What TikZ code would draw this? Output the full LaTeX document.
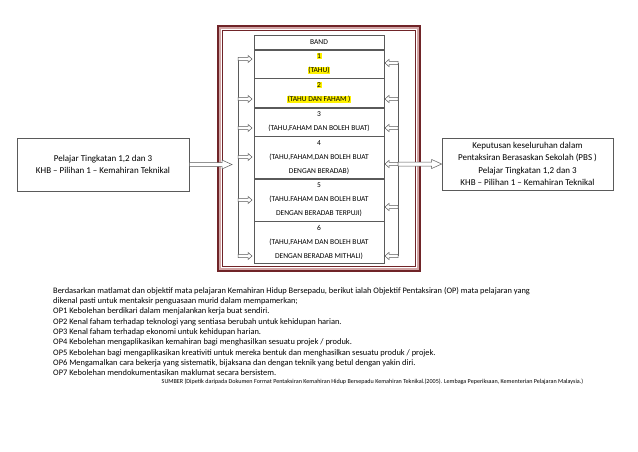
\documentclass[tikz,border=0pt]{standalone}
\usepackage{fontspec}
\setmainfont{Carlito}
\usetikzlibrary{calc}
\definecolor{framedark}{RGB}{112,36,40}
\definecolor{framelight}{RGB}{210,165,165}
\definecolor{linegray}{RGB}{90,90,90}
\newcommand\hlbox[1]{{\setlength{\fboxsep}{0.6pt}\colorbox{yellow}{#1}}}
\tikzset{
  rowbox/.style={draw=linegray, line width=0.5pt, minimum width=130pt, inner sep=0pt,
    align=center, anchor=north, font=\fontsize{7.5}{14}\selectfont},
  sidebox/.style={draw=linegray, line width=0.6pt, align=center, inner sep=0pt,
    font=\fontsize{9}{12.3}\selectfont},
  hollowR/.style={draw=linegray, line width=0.5pt, fill=white, to path={let \p1=(\tikztostart), \p2=(\tikztotarget) in
    (\x1,\y1+1.7pt) -- (\x2-4pt,\y1+1.7pt) -- (\x2-4pt,\y1+3.6pt) -- (\x2,\y1) -- (\x2-4pt,\y1-3.6pt) -- (\x2-4pt,\y1-1.7pt) -- (\x1,\y1-1.7pt) -- cycle}},
  hollowL/.style={draw=linegray, line width=0.5pt, fill=white, to path={let \p1=(\tikztostart), \p2=(\tikztotarget) in
    (\x1,\y1+1.7pt) -- (\x2+4pt,\y1+1.7pt) -- (\x2+4pt,\y1+3.6pt) -- (\x2,\y1) -- (\x2+4pt,\y1-3.6pt) -- (\x2+4pt,\y1-1.7pt) -- (\x1,\y1-1.7pt) -- cycle}},
  bighollow/.style={draw=linegray, line width=0.5pt, fill=white, to path={let \p1=(\tikztostart), \p2=(\tikztotarget) in
    (\x1,\y1+2pt) -- (\x2-10pt,\y1+2pt) -- (\x2-10pt,\y1+4.5pt) -- (\x2,\y1) -- (\x2-10pt,\y1-4.5pt) -- (\x2-10pt,\y1-2pt) -- (\x1,\y1-2pt) -- cycle}},
  connline/.style={draw=linegray, line width=0.6pt}
}
\begin{document}
\begin{tikzpicture}[x=1pt,y=-1pt]
\useasboundingbox (0,0) rectangle (638,451);
% frame
\draw[framedark, line width=2.2pt] (218,26) rectangle (420,271);
\draw[framelight, line width=2pt] (220.2,28.2) rectangle (417.8,268.8);
\draw[framedark, line width=1pt] (222.2,30.2) rectangle (415.8,266.8);
% table
\node[rowbox, minimum height=14pt] (band) at (319,35) {BAND};
\node[rowbox, minimum height=28pt] (r1) at (band.south) {\hlbox{1}\\\hlbox{(TAHU)}};
\node[rowbox, minimum height=29pt] (r2) at (r1.south) {\hlbox{2}\\\hlbox{(TAHU DAN FAHAM )}};
\node[rowbox, minimum height=28pt] (r3) at (r2.south) {3\\(TAHU,FAHAM DAN BOLEH BUAT)};
\node[rowbox, minimum height=42pt] (r4) at (r3.south) {4\\(TAHU,FAHAM,DAN BOLEH BUAT\\DENGAN BERADAB)};
\node[rowbox, minimum height=42pt] (r5) at (r4.south) {5\\(TAHU.FAHAM DAN BOLEH BUAT\\DENGAN BERADAB TERPUJI)};
\node[rowbox, minimum height=42pt] (r6) at (r5.south) {6\\(TAHU,FAHAM DAN BOLEH BUAT\\DENGAN BERADAB MITHALI)};
% side boxes
\node[sidebox, minimum width=172pt, minimum height=53pt] (lbox) at (103,164.5)
  {Pelajar Tingkatan 1,2 dan 3\\KHB – Pilihan 1 – Kemahiran Teknikal};
\node[sidebox, minimum width=171pt, minimum height=52pt] (rbox) at (527.5,164)
  {Keputusan keseluruhan dalam\\Pentaksiran Berasaskan Sekolah (PBS )\\Pelajar Tingkatan 1,2 dan 3\\KHB – Pilihan 1 – Kemahiran Teknikal};
% vertical distribution lines
\coordinate (ltop) at (238,59);
\coordinate (lbot) at (238,256);
\coordinate (rtop) at (398,63);
\coordinate (rbot) at (398,256);
\draw[connline] (ltop) -- (lbot);
\draw[connline] (rtop) -- (rbot);
% left small arrows
\foreach \yy [count=\i] in {59,99,128,157,200,256}{
  \coordinate (la\i) at (238,\yy);
  \coordinate (lb\i) at (252,\yy);
  \draw[hollowR] (la\i) to (lb\i);
}
% right small arrows
\foreach \yy [count=\i] in {63,99,128,164,207,256}{
  \coordinate (ra\i) at (398,\yy);
  \coordinate (rb\i) at (385,\yy);
  \draw[hollowL] (ra\i) to (rb\i);
}
% big arrows
\coordinate (lin) at (232,164.5);
\draw[bighollow] (lbox.east) to (lin);
\draw[bighollow] (ra4) to (rbox.west);
% text
\node[anchor=north west, align=left, inner sep=0pt, font=\fontsize{8.4}{10.3}\selectfont] (body) at (53,287)
{Berdasarkan matlamat dan objektif mata pelajaran Kemahiran Hidup Bersepadu, berikut ialah Objektif Pentaksiran (OP) mata pelajaran yang\\
dikenal pasti untuk mentaksir penguasaan murid dalam mempamerkan;\\
OP1 Kebolehan berdikari dalam menjalankan kerja buat sendiri.\\
OP2 Kenal faham terhadap teknologi yang sentiasa berubah untuk kehidupan harian.\\
OP3 Kenal faham terhadap ekonomi untuk kehidupan harian.\\
OP4 Kebolehan mengaplikasikan kemahiran bagi menghasilkan sesuatu projek / produk.\\
OP5 Kebolehan bagi mengaplikasikan kreativiti untuk mereka bentuk dan menghasilkan sesuatu produk / projek.\\
OP6 Mengamalkan cara bekerja yang sistematik, bijaksana dan dengan teknik yang betul dengan yakin diri.\\
OP7 Kebolehan mendokumentasikan maklumat secara bersistem.};
\node[anchor=base, inner sep=0pt, font=\fontsize{6.1}{7}\selectfont] (src) at (372.5,383)
{SUMBER (Dipetik daripada Dokumen Format Pentaksiran Kemahiran Hidup Bersepadu Kemahiran Teknikal.(2005). Lembaga Peperiksaan, Kementerian Pelajaran Malaysia.)};
\end{tikzpicture}
\end{document}
